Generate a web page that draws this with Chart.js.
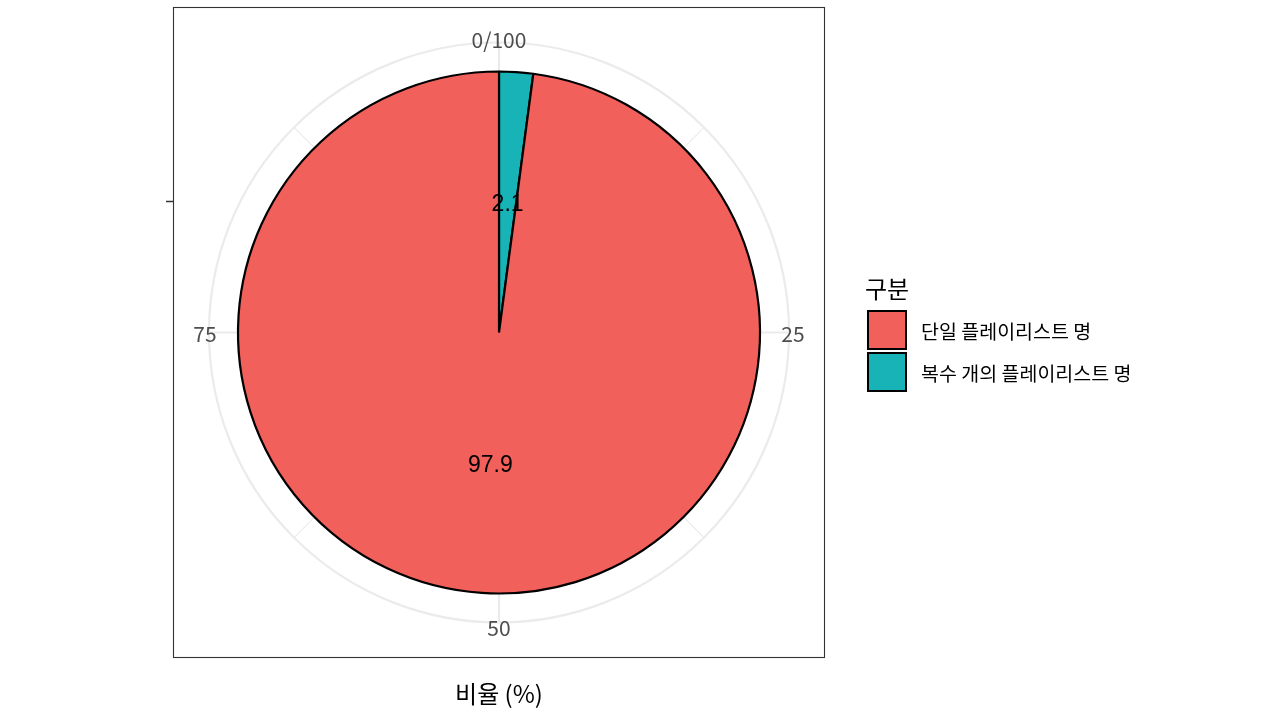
<!DOCTYPE html>
<html>
<head>
<meta charset="utf-8">
<script src="https://cdn.jsdelivr.net/npm/chart.js@4"></script>
<style>
  html, body { margin: 0; padding: 0; background: #fff; }
  #pie { display: block; }
</style>
</head>
<body>
<canvas id="pie" width="1277" height="722"></canvas>
<script>
/*--------------------DATA--------------------*/
// order in the pie (clockwise from the top)
let categories = ['복수 개의 플레이리스트 명', '단일 플레이리스트 명'];
let shares = [2.1, 97.9];
let sliceColors = ['#17B3B7', '#F2605B'];
// legend shows them the other way round
let legendOrder = [1, 0];
let legendTitle = '구분';
let axisTitle = '비율 (%)';
let thetaTicks = [0, 25, 50, 75];
let thetaTickLabels = ['0/100', '25', '50', '75'];
let thetaMinor = [12.5, 37.5, 62.5, 87.5];

const KR = '"Noto Sans CJK KR", "Noto Sans", sans-serif';

/*--------------------DECORATION--------------------*/
function angleOf(pct) {
    return -Math.PI / 2 + pct / 100 * Math.PI * 2;
}

let polarDecor = {
    id: 'polarDecor',
    beforeDatasetsDraw(chart) {
        let arc = chart.getDatasetMeta(0).data[0];
        if (!arc) return;
        let ctx = chart.ctx;
        let cx = arc.x, cy = arc.y;
        let rGrid = arc.outerRadius + 29;
        ctx.save();
        ctx.strokeStyle = '#EBEBEB';
        ctx.lineWidth = 2.2;
        ctx.beginPath();
        ctx.arc(cx, cy, rGrid, 0, Math.PI * 2);
        ctx.stroke();
        thetaTicks.forEach((t) => {
            let a = angleOf(t);
            ctx.beginPath();
            ctx.moveTo(cx, cy);
            ctx.lineTo(cx + rGrid * Math.cos(a), cy + rGrid * Math.sin(a));
            ctx.stroke();
        });
        ctx.lineWidth = 1.1;
        thetaMinor.forEach((t) => {
            let a = angleOf(t);
            ctx.beginPath();
            ctx.moveTo(cx, cy);
            ctx.lineTo(cx + rGrid * Math.cos(a), cy + rGrid * Math.sin(a));
            ctx.stroke();
        });
        ctx.restore();
    },
    afterDatasetsDraw(chart) {
        let meta = chart.getDatasetMeta(0);
        let arc = meta.data[0];
        if (!arc) return;
        let ctx = chart.ctx;
        let area = chart.chartArea;
        let cx = arc.x, cy = arc.y;
        ctx.save();

        // panel border
        ctx.strokeStyle = '#333333';
        ctx.lineWidth = 1.1;
        ctx.strokeRect(area.left + 0.5, area.top + 0.5, area.right - area.left - 1, area.bottom - area.top - 1);

        // lone radial tick on the left
        ctx.beginPath();
        ctx.lineWidth = 1.5;
        ctx.moveTo(area.left - 7, cy - 131);
        ctx.lineTo(area.left, cy - 131);
        ctx.stroke();

        // theta labels
        ctx.fillStyle = '#4D4D4D';
        ctx.font = '21px ' + KR;
        ctx.textAlign = 'center';
        ctx.textBaseline = 'middle';
        let rLab = arc.outerRadius + 33;
        thetaTicks.forEach((t, i) => {
            let a = angleOf(t);
            ctx.fillText(thetaTickLabels[i], cx + rLab * Math.cos(a), cy + rLab * Math.sin(a) + 2);
        });

        // slice labels
        ctx.fillStyle = '#000';
        ctx.font = '23px "Liberation Sans", Arial, sans-serif';
        meta.data.forEach((el, i) => {
            let p = el.tooltipPosition();
            ctx.fillText(String(shares[i]), p.x, p.y + 2.5);
        });

        // axis title
        ctx.font = '24px ' + KR;
        ctx.fillText(axisTitle, (area.left + area.right) / 2, 694);

        // legend
        ctx.textAlign = 'left';
        ctx.font = '24px ' + KR;
        ctx.fillText(legendTitle, 865, 289);
        ctx.font = '19.5px ' + KR;
        legendOrder.forEach((k, j) => {
            let y = 311 + j * 42;
            ctx.fillStyle = sliceColors[k];
            ctx.fillRect(868, y, 38, 38);
            ctx.strokeStyle = '#000';
            ctx.lineWidth = 2;
            ctx.strokeRect(868, y, 38, 38);
            ctx.fillStyle = '#000';
            ctx.fillText(categories[k], 921, y + 21);
        });
        ctx.restore();
    }
};

/*--------------------CHART--------------------*/
let pieCanvas = document.getElementById('pie');
let pieChart = new Chart(pieCanvas, {
    type: 'pie',
    data: {
        labels: categories,
        datasets: [
            {
                data: shares,
                backgroundColor: sliceColors,
                borderColor: '#000000',
                borderWidth: 2.2
            }
        ]
    },
    options: {
        responsive: false,
        animation: false,
        devicePixelRatio: 1,
        radius: 261,
        layout: { padding: { left: 173, right: 452, top: 7, bottom: 64 } },
        plugins: {
            legend: { display: false },
            tooltip: { enabled: false }
        }
    },
    plugins: [polarDecor]
});
</script>
</body>
</html>
